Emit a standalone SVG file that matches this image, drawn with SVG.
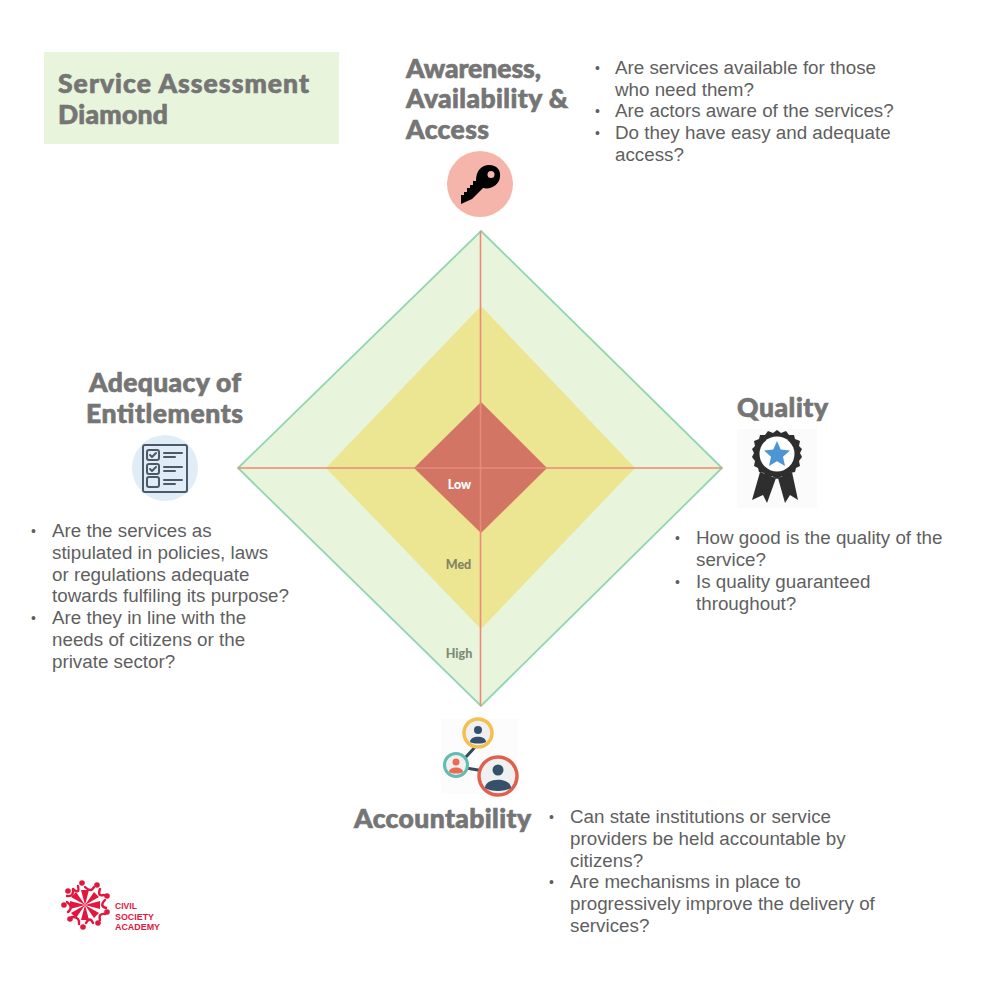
<svg xmlns="http://www.w3.org/2000/svg" width="1000" height="989" viewBox="0 0 1000 989">
<style>
.h{font-family:"Lato","Open Sans",sans-serif;font-weight:900;font-size:26.500px;fill:#757575;stroke:#757575;stroke-width:.7px}
.b{font-family:"Liberation Sans",Arial,sans-serif;font-size:18.800px;fill:#5f5f5f}
.u{font-family:"Liberation Sans",Arial,sans-serif;font-size:14px;fill:#5f5f5f}
.l{font-family:"Lato",sans-serif;font-weight:900;font-size:12.500px;text-anchor:middle}
.ax{stroke:#ea8a7a;stroke-width:1.600;fill:none}
.ink{fill:#2e2e2e}
.cl{fill:none;stroke:#4a5a68;stroke-width:2;stroke-linecap:round;stroke-linejoin:round}
.red{fill:#e2173e}
</style>
<rect width="1000" height="989" fill="#fff"/>
<g id="title"><rect x="44" y="52" width="295" height="92" fill="#e8f4db"/><text class="h" x="58" y="93" textLength="251">Service Assessment</text><text class="h" x="58" y="124" textLength="110">Diamond</text></g>
<g id="diamond">
<polygon points="481,231 722,468 481,706 238,468" fill="#e8f4db" stroke="#93d5b0" stroke-width="1.800"/>
<polygon points="481,306 635,468 481,629 326,468" fill="#ece592"/>
<polygon points="481,402 547,468 481,533 414,468" fill="#d27565"/>
</g>
<g id="connectors"><line class="ax" x1="480.500" y1="231" x2="480.500" y2="706"/><line class="ax" x1="238" y1="468" x2="722" y2="468"/></g>
<g id="levels"><text class="l" x="459.500" y="489" fill="#fff">Low</text><text class="l" x="458.500" y="569" fill="#85835f">Med</text><text class="l" x="459" y="658" fill="#7d8a78">High</text></g>
<g id="node-access"><text class="h" x="406" y="78" textLength="135">Awareness,</text><text class="h" x="406" y="108" textLength="162">Availability &amp;</text><text class="h" x="406" y="139" textLength="83">Access</text>
<circle cx="480" cy="184" r="33" fill="#f6b5aa"/>
<path d="M461 204V195H464V192H467V188H470V185H473V181H476C476 170 482 165 489 165C497 165 501 170 500 177C499 185 491 190 483 188L472 199Z" fill="#000"/><circle cx="491" cy="174.500" r="3.500" fill="#f6b5aa"/>
<text class="u" x="595" y="73">•</text><text class="u" x="595" y="116">•</text><text class="u" x="595" y="138">•</text>
<g class="b"><text x="615" y="74">Are services available for those</text><text x="615" y="96">who need them?</text><text x="615" y="117">Are actors aware of the services?</text><text x="615" y="139">Do they have easy and adequate</text><text x="615" y="161">access?</text></g></g>
<g id="node-entitlements"><text class="h" x="89" y="392" textLength="152">Adequacy of</text><text class="h" x="86" y="423" textLength="157">Entitlements</text>
<circle cx="165" cy="468" r="33" fill="#e1edf6"/>
<rect x="143" y="445" width="44" height="47" rx="2" class="cl"/><rect x="147" y="450" width="12" height="10" rx="2" class="cl"/><rect x="147" y="464" width="12" height="10" rx="2" class="cl"/><rect x="147" y="477" width="12" height="10" rx="2" class="cl"/>
<path class="cl" d="M150 455l2 2 4-4M150 469l2 2 4-4M164 453h18M164 457h11M164 467h18M164 471h11M164 480h18M164 484h11" stroke-width="1.600"/>
<text class="u" x="31" y="536">•</text><text class="u" x="31" y="623">•</text>
<g class="b"><text x="52" y="537">Are the services as</text><text x="52" y="559">stipulated in policies, laws</text><text x="52" y="581">or regulations adequate</text><text x="52" y="602">towards fulfiling its purpose?</text><text x="52" y="624">Are they in line with the</text><text x="52" y="646">needs of citizens or the</text><text x="52" y="668">private sector?</text></g></g>
<g id="node-quality"><text class="h" x="737" y="417" textLength="91">Quality</text>
<rect x="737" y="429" width="80" height="79" fill="#fbfbfb"/>
<path class="ink" d="M760 472L752 500L763 495L767 503L776 478ZM792 472L798 500L790 495L785 503L778 478Z"/>
<polygon class="ink" points="777,430 781,433 786,431 789,435 794,435 795,439 800,441 799,446 802,449 800,453 802,457 799,461 800,466 796,468 795,472 790,473 787,477 782,476 777,479 772,476 767,477 764,473 759,472 758,468 754,466 755,461 752,457 754,453 752,449 755,446 754,441 759,439 760,435 765,435 768,431 773,433"/>
<circle cx="777" cy="454" r="17.500" fill="#fff"/>
<polygon points="777,441 780.700,449.500 790,450.500 783,456.700 785,466 777,461.200 769,466 771,456.700 764,450.500 773.300,449.500" fill="#4e96d3"/>
<text class="u" x="675" y="543">•</text><text class="u" x="675" y="587">•</text>
<g class="b"><text x="696" y="544">How good is the quality of the</text><text x="696" y="566">service?</text><text x="696" y="588">Is quality guaranteed</text><text x="696" y="610">throughout?</text></g></g>
<g id="node-accountability">
<rect x="441" y="719" width="77" height="75" fill="#fcfcfc"/>
<path d="M477 745L465 758M466 768L484 771" stroke="#34495e" stroke-width="3" fill="none"/>
<circle cx="478" cy="733" r="14" fill="#f0f0f0" stroke="#f2c04e" stroke-width="3.500"/><circle cx="478" cy="730" r="4" fill="#34506a"/><path d="M470 742c0-7 16-7 16 0c-4 2-12 2-16 0z" fill="#34506a"/>
<circle cx="456" cy="765" r="11.500" fill="#f0f0f0" stroke="#62bcb0" stroke-width="3"/><circle cx="456" cy="762" r="3.500" fill="#ea6a54"/><path d="M449 772c0-6 14-6 14 0c-4 2-10 2-14 0z" fill="#ea6a54"/>
<circle cx="498" cy="776" r="19" fill="#f0f0f0" stroke="#e0604e" stroke-width="3.500"/><circle cx="498" cy="770" r="5.500" fill="#34506a"/><path d="M485 788c0-11 26-11 26 0c-6 4-20 4-26 0z" fill="#34506a"/>
<text class="h" x="354" y="828" textLength="177">Accountability</text>
<text class="u" x="549" y="822">•</text><text class="u" x="549" y="887">•</text>
<g class="b"><text x="570" y="823">Can state institutions or service</text><text x="570" y="845">providers be held accountable by</text><text x="570" y="867">citizens?</text><text x="570" y="888">Are mechanisms in place to</text><text x="570" y="910">progressively improve the delivery of</text><text x="570" y="932">services?</text></g></g>
<g id="logo">
<g fill="none" stroke="#e2173e" stroke-width="2.400" stroke-linecap="round"><path d="M73 889Q80 895 78 886M85 887Q91 893 94 887M100 889Q97 897 104 895M105 900Q99 906 106 908M105 914Q98 913 100 920M93 923Q90 916 86 923M79 924Q80 917 72 917M68 912Q74 907 67 902M67 896Q74 897 73 889"/></g>
<path class="red" d="M85 905L89 890L81 890ZM85 905L94 892L99 897ZM85 905L100 901L100 909ZM85 905L99 913L94 918ZM85 905L89 920L81 920ZM85 905L76 918L71 913ZM85 905L70 909L70 901ZM85 905L71 897L76 892Z"/>
<g class="red"><circle cx="82" cy="883" r="2.800"/><circle cx="97" cy="885" r="2.800"/><circle cx="107" cy="896" r="2.800"/><circle cx="107" cy="912" r="2.800"/><circle cx="98" cy="923" r="2.800"/><circle cx="83" cy="927" r="2.800"/><circle cx="70" cy="919" r="2.800"/><circle cx="64" cy="905" r="2.800"/><circle cx="68" cy="891" r="2.800"/></g>
<g font-family="Liberation Sans,sans-serif" font-weight="700" font-size="9.500" fill="#e2173e"><text x="115" y="909" textLength="22" lengthAdjust="spacingAndGlyphs">CIVIL</text><text x="115" y="919.500" textLength="39" lengthAdjust="spacingAndGlyphs">SOCIETY</text><text x="115" y="929.500" textLength="45" lengthAdjust="spacingAndGlyphs">ACADEMY</text></g></g>
</svg>
